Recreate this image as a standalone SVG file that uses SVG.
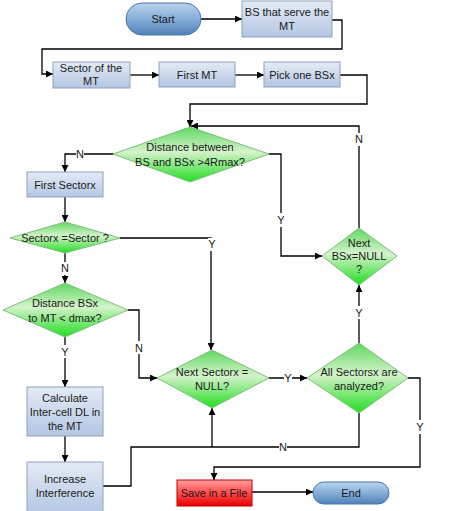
<svg xmlns="http://www.w3.org/2000/svg" width="474" height="511" viewBox="0 0 474 511">
<defs>
<linearGradient id="gBox" x1="0" y1="0" x2="0" y2="1"><stop offset="0" stop-color="#e4ebf5"/><stop offset="1" stop-color="#b3c6e2"/></linearGradient>
<linearGradient id="gPill" x1="0" y1="0" x2="0" y2="1"><stop offset="0" stop-color="#b9d3ec"/><stop offset="0.5" stop-color="#86aed8"/><stop offset="1" stop-color="#4f82b8"/></linearGradient>
<linearGradient id="gRed" x1="0" y1="0" x2="0" y2="1"><stop offset="0" stop-color="#ffa0a0"/><stop offset="0.5" stop-color="#ff4a4a"/><stop offset="1" stop-color="#e80000"/></linearGradient>
<linearGradient id="gDia" x1="0" y1="0" x2="0" y2="1"><stop offset="0" stop-color="#5fd85f"/><stop offset="0.45" stop-color="#d6f2cc"/><stop offset="1" stop-color="#22dd22"/></linearGradient>
<marker id="ah" viewBox="0 0 10 10" refX="10" refY="5" markerWidth="9" markerHeight="7" markerUnits="userSpaceOnUse" orient="auto"><path d="M0,0 L10,5 L0,10 z" fill="#000"/></marker>
</defs>
<style>
.box{fill:url(#gBox);stroke:#8da2c0;stroke-width:1}
.pill{fill:url(#gPill);stroke:#4a76a8;stroke-width:1}
.red{fill:url(#gRed);stroke:#c00000;stroke-width:1}
.dia{fill:url(#gDia);stroke:#7cc07c;stroke-width:1}
.t{font-family:"Liberation Sans",Arial,sans-serif;font-size:11px;fill:#1a1a1a;text-anchor:middle}
.c{fill:none;stroke:#000;stroke-width:1.3}
.a{marker-end:url(#ah)}
.lb{fill:#fff}
</style>
<rect width="474" height="511" fill="#fff"/>
<g id="connectors">
<path class="c a" d="M201,19 L242,19"/>
<path class="c a" d="M332,20 H342 V49 H42 V74 H53"/>
<path class="c a" d="M130,75 H159"/>
<path class="c a" d="M235,75 H264"/>
<path class="c a" d="M340,75 H367 V104 H190 V127"/>
<path class="c a" d="M359,228 V126 H191"/>
<path class="c a" d="M113,154 H65 V172"/>
<path class="c a" d="M269,154 H281 V256 H322"/>
<path class="c a" d="M65,197 V222"/>
<path class="c a" d="M120,238 H211 V350"/>
<path class="c a" d="M65,253 V283"/>
<path class="c a" d="M128,310 H139 V378 H157"/>
<path class="c a" d="M65,337 V387"/>
<path class="c a" d="M65,436 V462"/>
<path class="c" d="M103,486 H131 V447 H359 V413"/>
<path class="c a" d="M212,447 V408"/>
<path class="c a" d="M269,378 H307"/>
<path class="c a" d="M359,343 V285"/>
<path class="c a" d="M408,378 H420 V467 H214 V480"/>
<path class="c a" d="M252,492 H313"/>
<g id="labels">
<rect class="lb" x="355" y="133" width="8" height="13"/><text class="t" x="359" y="143">N</text>
<rect class="lb" x="76" y="148" width="8" height="12"/><text class="t" x="80" y="158">N</text>
<rect class="lb" x="277" y="213" width="8" height="14"/><text class="t" x="281" y="224">Y</text>
<rect class="lb" x="208" y="238" width="8" height="13"/><text class="t" x="212" y="248">Y</text>
<rect class="lb" x="61" y="262" width="8" height="13"/><text class="t" x="65" y="272">N</text>
<rect class="lb" x="135" y="341" width="8" height="13"/><text class="t" x="139" y="352">N</text>
<rect class="lb" x="61" y="345" width="8" height="13"/><text class="t" x="65" y="356">Y</text>
<rect class="lb" x="284" y="372" width="8" height="12"/><text class="t" x="288" y="382">Y</text>
<rect class="lb" x="355" y="306" width="8" height="13"/><text class="t" x="359" y="317">Y</text>
<rect class="lb" x="416" y="420" width="8" height="14"/><text class="t" x="420" y="431">Y</text>
<rect class="lb" x="279" y="441" width="8" height="12"/><text class="t" x="283" y="451">N</text>
</g>
</g>
<g id="start"><rect class="pill" x="126" y="3" width="75" height="32" rx="16"/><text class="t" x="163" y="23">Start</text></g>
<g id="bs-serve"><rect class="box" x="242" y="1" width="90" height="36"/><text class="t" x="287" y="16">BS that serve the</text><text class="t" x="287" y="30">MT</text></g>
<g id="sector-mt"><rect class="box" x="53" y="62" width="77" height="26"/><text class="t" x="91" y="72">Sector of the</text><text class="t" x="91" y="85">MT</text></g>
<g id="first-mt"><rect class="box" x="159" y="62" width="76" height="25"/><text class="t" x="197" y="79">First MT</text></g>
<g id="pick-bsx"><rect class="box" x="264" y="62" width="76" height="25"/><text class="t" x="302" y="79">Pick one BSx</text></g>
<g id="distance-bs"><polygon class="dia" points="190,127 269,154 190,182 113,154"/><text class="t" x="190" y="151">Distance between</text><text class="t" x="190" y="166">BS and BSx &gt;4Rmax?</text></g>
<g id="first-sectorx"><rect class="box" x="27" y="172" width="76" height="25"/><text class="t" x="65" y="189">First Sectorx</text></g>
<g id="sectorx-eq"><polygon class="dia" points="65,222 120,238 65,253 10,238"/><text class="t" x="65" y="242">Sectorx =Sector ?</text></g>
<g id="next-bsx"><polygon class="dia" points="359,228 397,256 359,285 322,256"/><text class="t" x="359" y="247">Next</text><text class="t" x="359" y="260">BSx=NULL</text><text class="t" x="359" y="273">?</text></g>
<g id="distance-bsx"><polygon class="dia" points="65,283 128,310 65,337 3,310"/><text class="t" x="65" y="307">Distance BSx</text><text class="t" x="65" y="322">to MT &lt; dmax?</text></g>
<g id="next-sectorx"><polygon class="dia" points="212,350 269,378 212,408 157,378"/><text class="t" x="212" y="376">Next Sectorx =</text><text class="t" x="212" y="390">NULL?</text></g>
<g id="all-sectorsx"><polygon class="dia" points="359,343 408,378 359,413 307,378"/><text class="t" x="359" y="376">All Sectorsx are</text><text class="t" x="359" y="390">analyzed?</text></g>
<g id="calculate"><rect class="box" x="27" y="387" width="76" height="49"/><text class="t" x="65" y="402">Calculate</text><text class="t" x="65" y="416">Inter-cell DL in</text><text class="t" x="65" y="430">the MT</text></g>
<g id="increase"><rect class="box" x="27" y="462" width="76" height="52"/><text class="t" x="65" y="483">Increase</text><text class="t" x="65" y="497">Interference</text></g>
<g id="save"><rect class="red" x="177" y="480" width="75" height="26"/><text class="t" x="214" y="497">Save in a File</text></g>
<g id="end"><rect class="pill" x="313" y="482" width="76" height="22" rx="11"/><text class="t" x="351" y="497">End</text></g>
</svg>
